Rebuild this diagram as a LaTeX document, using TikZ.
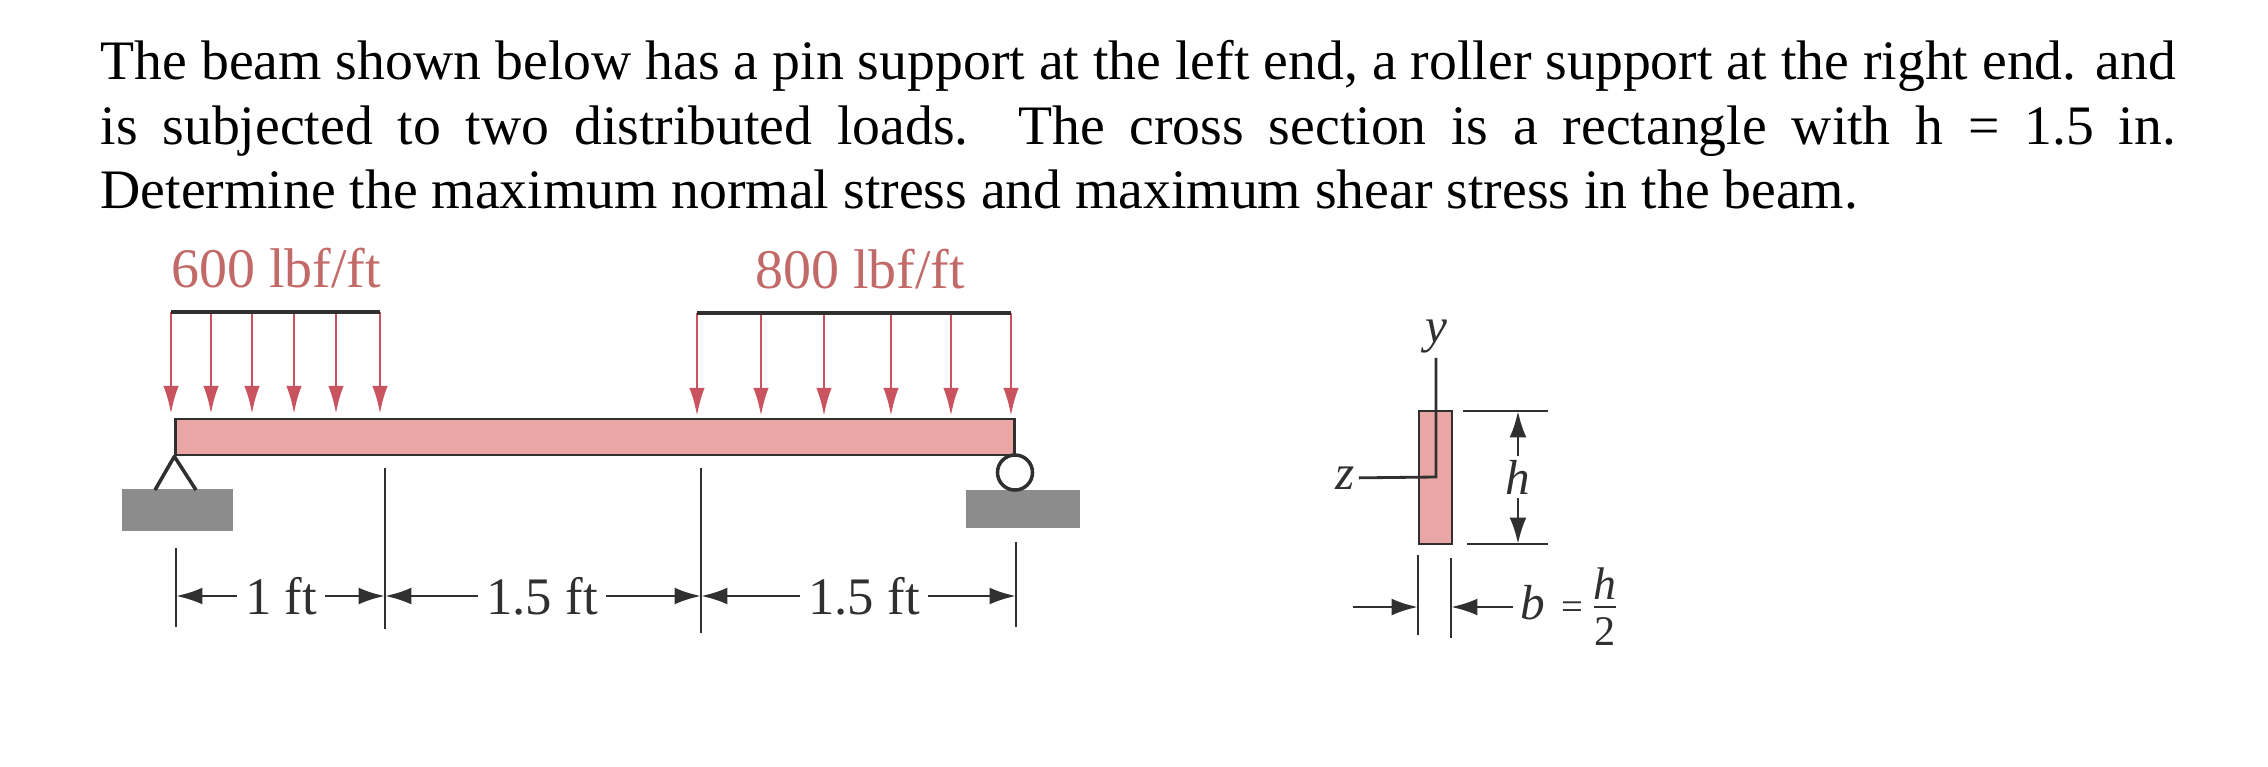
\documentclass[tikz,border=0pt]{standalone}
\usepackage[no-math]{fontspec}
\setmainfont{Liberation Serif}
\usetikzlibrary{arrows.meta}
\definecolor{beamred}{HTML}{E9A6A4}
\definecolor{loadred}{HTML}{C9545F}
\definecolor{labelred}{HTML}{C26A68}
\definecolor{blockgray}{HTML}{8C8C8C}
\definecolor{linegray}{HTML}{303030}
\tikzset{
  load/.style={draw=loadred,line width=0.8pt,-{Latex[length=8pt,width=4.4pt]}},
  loadbar/.style={draw=linegray,line width=1pt},
  dimline/.style={draw=linegray,line width=0.8pt},
  dimarrow/.style={draw=linegray,line width=0.8pt,-{Latex[length=7.5pt,width=4.8pt]}},
  block/.style={fill=blockgray,inner sep=0pt},
  looklabel/.style={text=labelred,font=\fontsize{15.9}{18}\selectfont,inner sep=0pt},
  dimlabel/.style={text=linegray,font=\fontsize{15}{18}\selectfont,inner sep=2.2pt},
  seclabel/.style={text=linegray,font=\fontsize{14}{16}\selectfont\itshape,inner sep=1pt}
}
\begin{document}
\begin{tikzpicture}[x=0.01cm,y=-0.01cm]
        \useasboundingbox (0,0) rectangle (2268,766);
        
        \node[anchor=north west,inner sep=0pt,text width=20.74cm,align=justify,font=\fontsize{15.84}{18.3}\selectfont] (problem) at (100,40) {The beam shown below has a pin support at the left end, a roller support at the right end. and\linebreak
        is subjected to two distributed loads.\ \ The cross section is a rectangle with h = 1.5 in.\linebreak
        Determine the maximum normal stress and maximum shear stress in the beam.\par};
        
        \node[looklabel,anchor=base] (label_left) at (276,287) {600 lbf/ft};
        \node[looklabel,anchor=base] (label_right) at (860,288) {800 lbf/ft};
        
        % left load
        \coordinate (la1) at (171,312);
        \coordinate (la2) at (211,312);
        \coordinate (la3) at (252,312);
        \coordinate (la4) at (294,312);
        \coordinate (la5) at (336,312);
        \coordinate (la6) at (380,312);
        \coordinate (ltip) at (0,414);
        \draw[load] (la1) -- (la1 |- ltip);
        \draw[load] (la2) -- (la2 |- ltip);
        \draw[load] (la3) -- (la3 |- ltip);
        \draw[load] (la4) -- (la4 |- ltip);
        \draw[load] (la5) -- (la5 |- ltip);
        \draw[load] (la6) -- (la6 |- ltip);
        \draw[loadbar] (la1) -- (la6);
        
        % right load
        \coordinate (ra1) at (697,313);
        \coordinate (ra2) at (761,313);
        \coordinate (ra3) at (824,313);
        \coordinate (ra4) at (891,313);
        \coordinate (ra5) at (951,313);
        \coordinate (ra6) at (1011,313);
        \coordinate (rtip) at (0,416);
        \draw[load] (ra1) -- (ra1 |- rtip);
        \draw[load] (ra2) -- (ra2 |- rtip);
        \draw[load] (ra3) -- (ra3 |- rtip);
        \draw[load] (ra4) -- (ra4 |- rtip);
        \draw[load] (ra5) -- (ra5 |- rtip);
        \draw[load] (ra6) -- (ra6 |- rtip);
        \draw[loadbar] (ra1) -- (ra6);
        
        % beam and supports
        \node[draw=linegray,line width=0.8pt,fill=beamred,inner sep=0pt,minimum width=8.38cm,minimum height=0.36cm] (beam) at (595,437) {};
        \node[block,minimum width=1.11cm,minimum height=0.42cm] (pin_block) at (177.5,510) {};
        \node[block,minimum width=1.14cm,minimum height=0.38cm] (roller_block) at (1023,509) {};
        \node[draw=linegray,line width=1pt,circle,inner sep=0pt,minimum size=0.35cm] (roller) at (1015,472.5) {};
        \draw[dimline,line width=1pt,line join=round] (155,490) -- (beam.south west) -- (196,490);
        
        % dimensions
        \coordinate (t1a) at (176,548);
        \coordinate (t1b) at (176,627);
        \coordinate (t2a) at (385,468);
        \coordinate (t2b) at (385,629);
        \coordinate (t3a) at (701,468);
        \coordinate (t3b) at (701,633);
        \coordinate (t4a) at (1016,542);
        \coordinate (t4b) at (1016,627);
        \draw[dimline] (t1a) -- (t1b);
        \draw[dimline] (t2a) -- (t2b);
        \draw[dimline] (t3a) -- (t3b);
        \draw[dimline] (t4a) -- (t4b);
        \node[dimlabel] (dim_a) at (281,596) {1 ft};
        \node[dimlabel] (dim_b) at (542,596) {1.5 ft};
        \node[dimlabel] (dim_c) at (864,596) {1.5 ft};
        \draw[dimarrow] (dim_a) -- (dim_a -| t1a);
        \draw[dimarrow] (dim_a) -- (dim_a -| t2a);
        \draw[dimarrow] (dim_b) -- (dim_b -| t2a);
        \draw[dimarrow] (dim_b) -- (dim_b -| t3a);
        \draw[dimarrow] (dim_c) -- (dim_c -| t3a);
        \draw[dimarrow] (dim_c) -- (dim_c -| t4a);
        
        % cross section
        \node[draw=linegray,line width=0.8pt,fill=beamred,inner sep=0pt,minimum width=0.33cm,minimum height=1.33cm] (section) at (1435.5,477.5) {};
        \node[seclabel] (axis_y) at (1436,337) {y};
        \node[seclabel] (axis_z) at (1345,478) {z};
        \coordinate (origin) at (1436,477);
        \draw[dimline] (axis_y) -- (origin) -- (axis_z);
        
        \coordinate (h1a) at (1463,411);
        \coordinate (h1b) at (1548,411);
        \coordinate (h2a) at (1467,544);
        \coordinate (h2b) at (1548,544);
        \draw[dimline] (h1a) -- (h1b);
        \draw[dimline] (h2a) -- (h2b);
        \node[seclabel,inner sep=1pt] (dim_h) at (1518,477) {h};
        \draw[dimarrow] (dim_h) -- (dim_h |- h1a);
        \draw[dimarrow] (dim_h) -- (dim_h |- h2a);
        
        \coordinate (b1a) at (1418,555);
        \coordinate (b1b) at (1418,635);
        \coordinate (b2a) at (1451,558);
        \coordinate (b2b) at (1451,638);
        \coordinate (b_tail) at (1353,607);
        \draw[dimline] (b1a) -- (b1b);
        \draw[dimline] (b2a) -- (b2b);
        \node[seclabel,anchor=west,inner sep=2pt] (dim_b_eq) at (1513,607) {\nulldelimiterspace=0pt b\hspace{4.5pt}{\upshape\fontsize{11}{12}\selectfont =}\hspace{3pt}$\textstyle\frac{\mbox{\itshape\fontsize{13}{14}\selectfont h}}{\mbox{\raisebox{-2.5pt}{\upshape\fontsize{12}{14}\selectfont 2}}}$};
        \draw[dimarrow] (b_tail) -- (b_tail -| b1a);
        \draw[dimarrow] (dim_b_eq) -- (dim_b_eq.west -| b2a);
\end{tikzpicture}
\end{document}
